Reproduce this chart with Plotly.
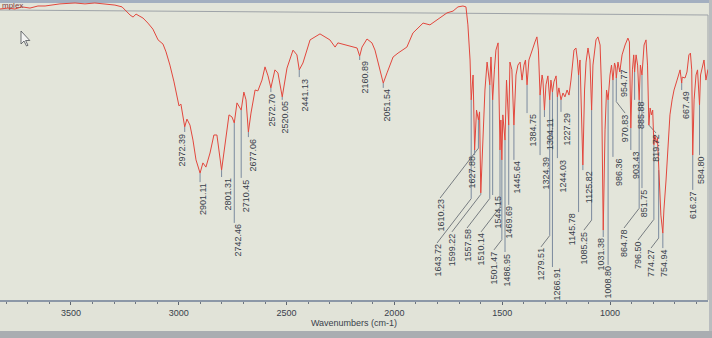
import plotly.graph_objects as go

# ---- measured IR spectrum ------------------------------------------------
# points on the curve between the picked bands (wavenumber cm-1, %T)
trace_wn = [3829, 3792, 3760, 3727, 3690, 3653, 3620, 3588, 3551, 3481, 3435, 3389,
            3342, 3296, 3263, 3245, 3226, 3212, 3198, 3184, 3166, 3143, 3120, 3096,
            3073, 3059, 3041, 3022, 3008, 2999, 2990, 2980, 2962, 2948, 2934, 2920,
            2888, 2874, 2855, 2837, 2823, 2786, 2767, 2753, 2730, 2698, 2688, 2665,
            2646, 2633, 2614, 2600, 2586, 2554, 2540, 2498, 2470, 2452, 2424, 2391,
            2345, 2299, 2275, 2262, 2220, 2173, 2150, 2127, 2104, 2090, 2076, 2034,
            2006, 1983, 1942, 1914, 1890, 1867, 1835, 1802, 1756, 1728, 1705, 1682,
            1668, 1659, 1649, 1635, 1619, 1605, 1589, 1580, 1570, 1552, 1536, 1529,
            1519, 1515, 1506, 1497, 1480, 1476, 1464, 1455, 1436, 1427, 1417, 1408,
            1399, 1392, 1376, 1362, 1348, 1339, 1332, 1315, 1311, 1297, 1288, 1274,
            1260, 1250, 1237, 1232, 1218, 1209, 1199, 1190, 1181, 1167, 1158, 1151,
            1139, 1118, 1111, 1102, 1093, 1079, 1065, 1056, 1046, 1039, 1023, 1016,
            1000, 993, 979, 974, 963, 944, 930, 917, 910, 896, 890, 879, 872, 859,
            842, 833, 826, 814, 808, 802, 792, 785, 780, 769, 764, 750, 740, 731,
            722, 712, 703, 689, 675, 665, 652, 643, 634, 627, 621, 610, 601, 594,
            589, 580, 571, 564, 555, 546, 527]
trace_T = [97.0, 97.3, 97.0, 97.7, 97.3, 98.0, 98.0, 98.3, 98.7, 99.0, 98.7, 99.0,
           98.7, 98.3, 97.7, 96.3, 95.0, 94.3, 95.3, 94.7, 94.0, 92.3, 90.3, 86.7,
           85.3, 82.7, 78.3, 72.7, 68.3, 64.7, 65.3, 61.7, 60.3, 58.3, 53.3, 46.7,
           45.7, 44.3, 49.0, 55.0, 55.0, 52.3, 61.7, 61.0, 65.7, 69.3, 66.7, 62.3,
           70.0, 69.7, 73.3, 77.7, 74.7, 76.7, 75.7, 77.3, 83.3, 81.7, 79.0, 86.7,
           88.7, 86.7, 84.3, 85.7, 85.0, 84.0, 84.3, 87.0, 85.7, 83.3, 79.0, 75.7,
           81.0, 82.3, 84.3, 89.0, 90.7, 92.3, 91.7, 93.3, 95.7, 96.3, 97.7, 98.0,
           97.7, 91.7, 80.0, 75.0, 63.3, 62.7, 56.7, 70.0, 79.3, 81.0, 76.7, 83.3,
           85.7, 73.3, 60.0, 61.7, 73.3, 68.3, 79.3, 76.7, 75.0, 78.3, 79.3, 73.3,
           78.3, 80.0, 80.0, 83.3, 86.0, 87.7, 83.3, 75.0, 73.3, 71.7, 74.7, 73.3,
           72.7, 74.7, 70.7, 68.3, 69.0, 67.7, 70.0, 68.3, 73.3, 83.3, 84.0, 80.0,
           80.0, 70.0, 79.3, 84.0, 80.0, 78.3, 86.7, 87.7, 85.0, 70.0, 56.7, 70.0,
           75.0, 78.3, 79.0, 77.7, 79.3, 81.7, 85.0, 87.3, 86.0, 76.7, 81.7, 81.7, 78.3, 78.3,
           85.0, 86.7, 78.3, 64.0, 61.7, 63.3, 55.0, 52.3, 54.0, 36.7, 28.3, 30.0, 40.0, 53.3,
           61.7, 66.7, 70.0, 73.3, 76.7, 74.3, 74.0, 76.0, 81.7, 82.3, 76.7, 66.7, 75.0, 76.7,
           70.0, 75.0, 77.7, 80.0, 73.3, 76.7, 78.3]

# picked bands (cm-1) and %T at each band minimum
peak_wn = [2972.39, 2901.11, 2801.31, 2742.46, 2710.45, 2677.06, 2572.70, 2520.05,
           2441.13, 2160.89, 2051.54, 1643.72, 1627.88, 1610.23, 1599.22, 1557.58,
           1544.15, 1510.14, 1501.47, 1486.95, 1469.69, 1445.64, 1384.75, 1324.39,
           1304.11, 1279.51, 1266.91, 1244.03, 1227.29, 1145.78, 1125.82, 1085.25,
           1031.38, 1008.80, 986.36, 970.83, 954.77, 903.43, 885.88, 864.78,
           851.75, 819.72, 796.50, 774.27, 754.94, 667.49, 616.27, 584.80]
peak_T = [57.7, 42.3, 43.3, 59.0, 63.3, 56.0, 70.7, 67.7,
          76.7, 81.3, 72.3, 66.7, 50.0, 60.0, 35.7, 71.7,
          66.7, 50.0, 46.7, 53.3, 58.3, 58.3, 71.7, 68.3,
          63.3, 66.7, 69.3, 67.7, 66.7, 75.0, 45.0, 63.3,
          23.3, 66.7, 73.3, 74.0, 76.0, 57.3, 76.0, 66.7,
          75.0, 58.3, 51.7, 43.3, 22.3, 72.3, 48.3, 65.0]

# label placement: centre (cm-1) and upper end (%T) of each rotated band label
label_wn = [2985, 2888, 2776, 2725, 2684, 2656, 2568, 2507,
            2415, 2136, 2034, 1802, 1640, 1788, 1733, 1663,
            1524, 1598, 1538, 1478, 1468, 1431, 1357, 1297,
            1278, 1320, 1250, 1218, 1199, 1176, 1097, 1121,
            1046, 1009, 958, 930, 935, 879, 856, 935,
            842, 787, 870, 810, 750, 648, 615, 578]
label_T = [56.0, 39.3, 41.0, 25.7, 40.7, 54.3, 69.3, 66.7,
           74.3, 80.0, 70.7, 19.0, 48.3, 34.0, 22.7, 24.0,
           35.0, 22.7, 16.7, 16.0, 31.7, 46.7, 62.3, 48.3,
           61.0, 17.7, 11.0, 47.3, 62.7, 29.3, 43.3, 23.3,
           21.0, 11.7, 47.7, 62.3, 77.3, 50.0, 66.7, 24.0,
           37.3, 55.7, 20.0, 17.3, 17.3, 70.0, 36.7, 48.3]

x_ticks = [3500, 3000, 2500, 2000, 1500, 1000]

# ---- figure geometry ------------------------------------------------------
W, H = 712, 338
MARGIN = dict(l=0, r=4, t=2, b=38)
X_RANGE = [3829, 545.5]
Y_RANGE = [0, 99.33]
plot_w = W - MARGIN["l"] - MARGIN["r"]
plot_h = H - MARGIN["t"] - MARGIN["b"]
px_per_wn = plot_w / (X_RANGE[0] - X_RANGE[1])
px_per_T = plot_h / (Y_RANGE[1] - Y_RANGE[0])

FONT = "Liberation Sans, Arial, sans-serif"
SPEC_RED = "#e2473d"
TICK_BLUE = "#7b8a9e"
LEADER = "#5b6169"
TEXT = "#39414b"

# the spectrum: shoulder points merged with the band minima
pts = sorted(zip(trace_wn + peak_wn, trace_T + peak_T), reverse=True)
spec_x = [p[0] for p in pts]
spec_y = [p[1] for p in pts]

# marker ticks under each band and leader lines to displaced labels
tick_x, tick_y, lead_x, lead_y = [], [], [], []
for wn, t, lw, lt in zip(peak_wn, peak_T, label_wn, label_T):
    dx_px = abs(lw - wn) * px_per_wn
    if dx_px <= 7:
        tick_x += [wn, wn, None]
        tick_y += [t, lt, None]
    else:
        tb = min(t, lt + 1.3 * dx_px / px_per_T)
        tick_x += [wn, wn, None]
        tick_y += [t, tb, None]
        lead_x += [wn, lw, None]
        lead_y += [tb, lt, None]

fig = go.Figure()
fig.add_trace(go.Scatter(x=lead_x, y=lead_y, mode="lines",
                         line=dict(color=LEADER, width=0.8), hoverinfo="skip"))
fig.add_trace(go.Scatter(x=tick_x, y=tick_y, mode="lines",
                         line=dict(color=TICK_BLUE, width=1), hoverinfo="skip"))
fig.add_trace(go.Scatter(x=spec_x, y=spec_y, mode="lines",
                         line=dict(color=SPEC_RED, width=1), hoverinfo="skip"))

annotations = []
for wn, lw, lt in zip(peak_wn, label_wn, label_T):
    annotations.append(dict(
        x=lw, y=lt, xref="x", yref="y", text=f"{wn:.2f}", textangle=-90,
        xanchor="center", yanchor="top", showarrow=False, borderpad=0,
        font=dict(family=FONT, size=9, color=TEXT)))

# sample name at the top-left corner of the window
annotations.append(dict(
    x=0.0, y=(plot_h - 5 + MARGIN["t"]) / plot_h, xref="paper", yref="paper",
    text="mplex", xanchor="left", yanchor="middle", showarrow=False,
    font=dict(family=FONT, size=8, color="#7d3b3b")))


def py(ypx):
    """Window pixel row -> paper y."""
    return (H - MARGIN["b"] - ypx) / plot_h


def px(xpx):
    """Window pixel column -> paper x."""
    return (xpx - MARGIN["l"]) / plot_w


shapes = [
    # title bar strip and window frame
    dict(type="rect", xref="paper", yref="paper", x0=px(-2), x1=px(714),
         y0=py(3), y1=py(-2), fillcolor="#a3afc0", line_width=0, layer="below"),
    dict(type="line", xref="paper", yref="paper", x0=px(0), x1=px(708),
         y0=py(10), y1=py(15), line=dict(color="#9ea3a8", width=1), layer="below"),
    dict(type="line", xref="paper", yref="paper", x0=1, x1=1,
         y0=py(15), y1=py(300), line=dict(color="#9ea3a8", width=1), layer="below"),
    dict(type="rect", xref="paper", yref="paper", x0=px(709), x1=px(714),
         y0=py(340), y1=py(-2), fillcolor="#b9bdbf", line_width=0, layer="below"),
    # status strip along the bottom
    dict(type="rect", xref="paper", yref="paper", x0=px(-2), x1=px(714),
         y0=py(340), y1=py(331), fillcolor="#a9adb1", line_width=0, layer="below"),
    # mouse pointer
    dict(type="path", xref="paper", yref="paper",
         path=(f"M {px(21)},{py(31)} L {px(21)},{py(44)} L {px(24)},{py(41)} "
               f"L {px(26.5)},{py(46)} L {px(28)},{py(45.3)} L {px(25.6)},{py(40.5)} "
               f"L {px(29.8)},{py(40.5)} Z"),
         fillcolor="#f3f4f2", line=dict(color="#4d5157", width=0.8)),
]

fig.update_layout(
    width=W, height=H, margin=MARGIN,
    paper_bgcolor="#e1e3d8", plot_bgcolor="#e3e5da",
    showlegend=False, annotations=annotations, shapes=shapes,
    font=dict(family=FONT, color=TEXT),
)
fig.update_xaxes(
    range=X_RANGE, tickmode="array", tickvals=x_ticks,
    ticktext=[str(v) for v in x_ticks],
    showgrid=False, zeroline=False, showline=True,
    linecolor="#8c98a7", linewidth=2, ticks="outside", ticklen=3,
    tickcolor="#5e6670", tickfont=dict(family=FONT, size=9, color=TEXT),
    minor=dict(tickvals=list(range(3800, 500, -100)), ticks="outside",
               ticklen=2, tickcolor="#6e7680"),
    title=dict(text="Wavenumbers (cm-1)", standoff=3,
               font=dict(family=FONT, size=9, color=TEXT)),
)
fig.update_yaxes(range=Y_RANGE, visible=False)

fig.write_html("out.html")
